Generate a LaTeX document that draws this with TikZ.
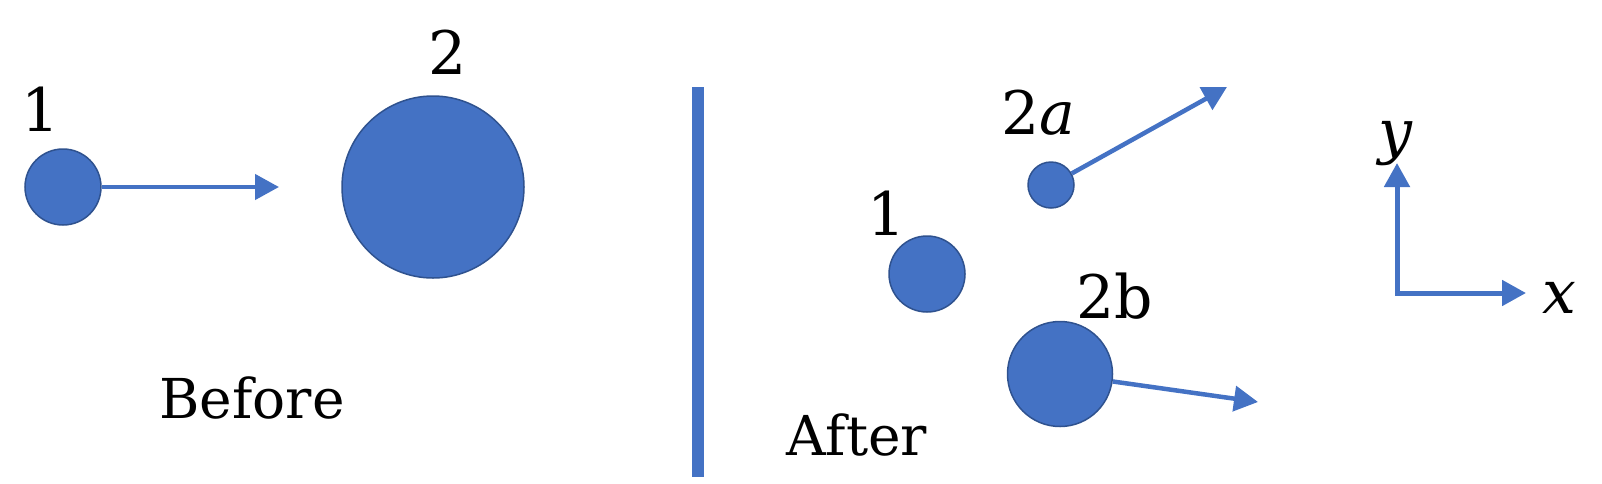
\documentclass[tikz,border=0pt]{standalone}
\usepackage{fontspec}
\setmainfont{DejaVu Serif}
\usetikzlibrary{arrows.meta}
\definecolor{ballblue}{HTML}{4472C4}
\definecolor{balledge}{HTML}{2F528F}
\tikzset{
  ball/.style={circle, inner sep=0pt, fill=ballblue, draw=balledge, line width=1.5pt, minimum size=#1},
  vel/.style={draw=ballblue, line width=4.5pt, -{Triangle[length=24pt,width=25pt]}},
  axisline/.style={draw=ballblue, line width=5pt, {Triangle[length=24pt,width=25pt]}-{Triangle[length=24pt,width=25pt]}},
  lbl/.style={inner sep=0pt, anchor=base, font=\fontsize{60}{66}\selectfont},
  captext/.style={inner sep=0pt, anchor=base, font=\fontsize{55}{60}\selectfont},
}
\begin{document}
\begin{tikzpicture}[x=1pt,y=-1pt]
\useasboundingbox (0,0) rectangle (1602,483);
% Before
\node[ball=76pt] (b1) at (63,187) {};
\node[ball=182pt] (b2) at (433,187) {};
\coordinate (b1tip) at (279,187);
\draw[vel] (b1.east) -- (b1tip);
\node[lbl] (lb1) at (41,131) {1};
\node[lbl] (lb2) at (448,74) {2};
\node[captext] (before) at (252,418) {Before};
% divider
\coordinate (dtop) at (698,87);
\coordinate (dbot) at (698,477);
\draw[ballblue, line width=12pt] (dtop) -- (dbot);
% After
\node[ball=76pt] (a1) at (927,274) {};
\node[ball=46pt] (a2a) at (1051,185) {};
\node[ball=105pt] (a2b) at (1060,374) {};
\coordinate (t2a) at (1227,87);
\coordinate (t2b) at (1258,402);
\draw[vel] (a2a) -- (t2a);
\draw[vel] (a2b) -- (t2b);
\node[lbl] (la1) at (887,235) {1};
\node[lbl] (la2a) at (1038,134) {2\textit{a}};
\node[lbl] (la2b) at (1115,318) {2b};
\node[captext] (after) at (857,455) {After};
% axes
\coordinate (o) at (1397,293);
\coordinate (ytip) at (1397,163);
\coordinate (xtip) at (1526,293);
\draw[axisline] (ytip) -- (o) -- (xtip);
\node[lbl] (ly) at (1396,152) {\textit{y}};
\node[lbl] (lx) at (1559,313) {\textit{x}};
\end{tikzpicture}
\end{document}
